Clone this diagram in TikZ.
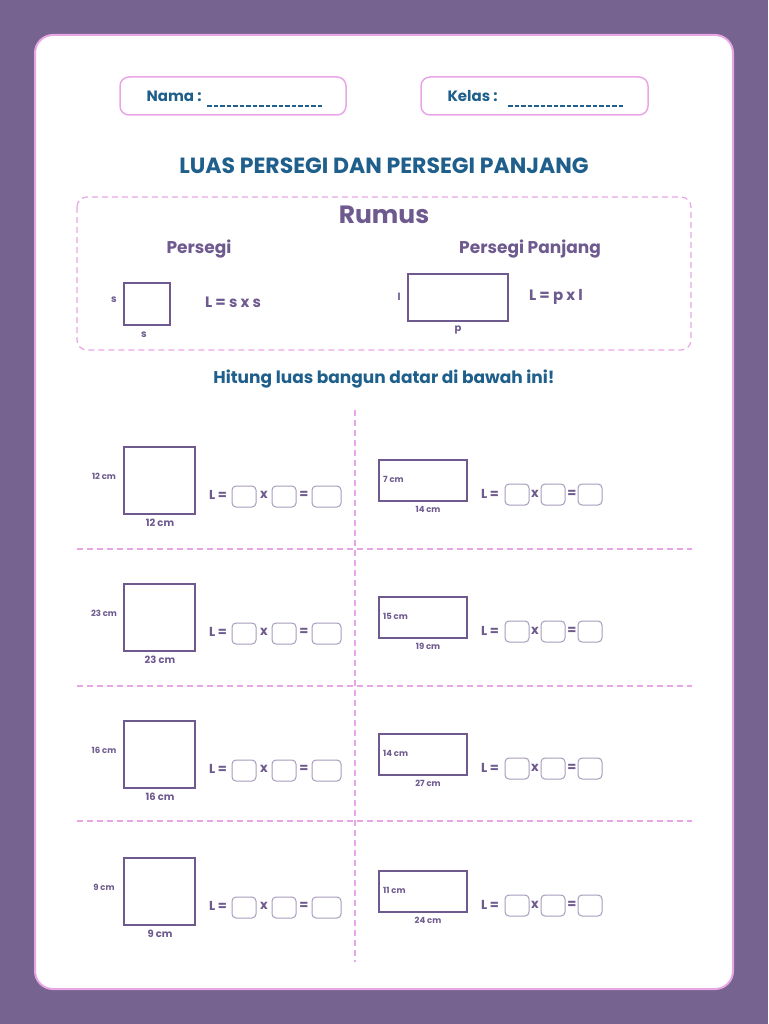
\documentclass[tikz,border=0pt]{standalone}
\usepackage{fontspec}
\setmainfont{Poppins}
\definecolor{bgp}{HTML}{76638F}
\definecolor{pinkb}{HTML}{E9A6E6}
\definecolor{blu}{HTML}{1F5F8B}
\definecolor{pur}{HTML}{6E5A8F}
\begin{document}
\begin{tikzpicture}[x=1pt,y=-1pt,
  lbl/.style={font=\bfseries\fontsize{8.5}{9}\selectfont,text=pur,inner sep=0pt},
  op/.style={font=\bfseries\fontsize{13}{14}\selectfont,text=pur,inner sep=0pt},
  shp/.style={draw=pur,line width=1.6pt},
  ansbox/.style={draw=pur!60,line width=1pt,rounded corners=4pt},
  sep/.style={draw=pinkb,dashed,line width=1.2pt,dash pattern=on 6pt off 4pt}]
\useasboundingbox (0,0) rectangle (768,1024);
\fill[bgp] (0,0) rectangle (768,1024);
\draw[fill=white,draw=pinkb,line width=2pt,rounded corners=18pt] (35,35) rectangle (733,989);
% header boxes
\draw[pinkb,line width=1.5pt,rounded corners=9pt] (120,77) rectangle (346,115);
\draw[pinkb,line width=1.5pt,rounded corners=9pt] (421,77) rectangle (648,115);
\node[anchor=west,text=blu,font=\bfseries\fontsize{15}{16}\selectfont] (nama) at (143,96) {Nama :};
\draw[blu,line width=1.3pt,dash pattern=on 4.5pt off 2pt] (207,106) -- (322,106);
\node[anchor=west,text=blu,font=\bfseries\fontsize{15}{16}\selectfont] (kelas) at (444,96) {Kelas :};
\draw[blu,line width=1.3pt,dash pattern=on 4.5pt off 2pt] (508,106) -- (623,106);
\node[text=blu,font=\bfseries\fontsize{22}{24}\selectfont] (title) at (384,166) {LUAS PERSEGI DAN PERSEGI PANJANG};
% rumus
\draw[sep,rounded corners=10pt] (77,197) rectangle (691,350);
\node[text=pur,font=\bfseries\fontsize{25}{26}\selectfont] (rumus) at (384,215) {Rumus};
\node[text=pur,font=\bfseries\fontsize{17}{18}\selectfont] (pers) at (199,249) {Persegi};
\node[text=pur,font=\bfseries\fontsize{17}{18}\selectfont] (pp) at (530,249) {Persegi Panjang};
\draw[shp,line width=1.3pt] (124,283) rectangle (170,325);
\node[lbl,font=\bfseries\fontsize{10}{11}\selectfont] (s1) at (114,300) {s};
\node[lbl,font=\bfseries\fontsize{10}{11}\selectfont] (s2) at (144,335) {s};
\node[op,font=\bfseries\fontsize{15}{16}\selectfont] (fs) at (233,302) {L = s x s};
\draw[shp,line width=1.3pt] (408,274) rectangle (508,321);
\node[lbl,font=\bfseries\fontsize{10}{11}\selectfont] (l1) at (399,297) {l};
\node[lbl,font=\bfseries\fontsize{10}{11}\selectfont] (p1) at (458,330) {p};
\node[op,font=\bfseries\fontsize{15}{16}\selectfont] (fp) at (556,297) {L = p x l};
\node[text=blu,font=\bfseries\fontsize{17}{18}\selectfont] (inst) at (384,379) {Hitung luas bangun datar di bawah ini!};
% separators
\draw[sep] (355,410) -- (355,962);
\foreach \y in {549,686,821} \draw[sep] (77,\y) -- (692,\y);
% rows
\foreach \i/\a/\b/\c in {0/12/7/14,1/23/15/19,2/16/14/27,3/9/11/24}{
  \begin{scope}[yshift={-137*\i}]
  \draw[shp] (124,447) rectangle (195,514);
  \node[lbl] at (104,476) {\a{} cm};
  \node[lbl,font=\bfseries\fontsize{10}{11}\selectfont] at (160,523) {\a{} cm};
  \node[op] at (218,495) {L =};
  \draw[ansbox] (232,486) rectangle (256,507);
  \node[op] at (264,495) {x};
  \draw[ansbox] (272,486) rectangle (296,507);
  \node[op] at (304,495) {=};
  \draw[ansbox] (312,486) rectangle (341,507);
  \draw[shp] (379,460) rectangle (467,501);
  \node[lbl] at (383,479) [anchor=west] {\b{} cm};
  \node[lbl] at (428,509) {\c{} cm};
  \node[op] at (490,494) {L =};
  \draw[ansbox] (505,484) rectangle (529,505);
  \node[op] at (535,494) {x};
  \draw[ansbox] (541,484) rectangle (565,505);
  \node[op] at (572,494) {=};
  \draw[ansbox] (578,484) rectangle (602,505);
  \end{scope}}
\end{tikzpicture}
\end{document}
